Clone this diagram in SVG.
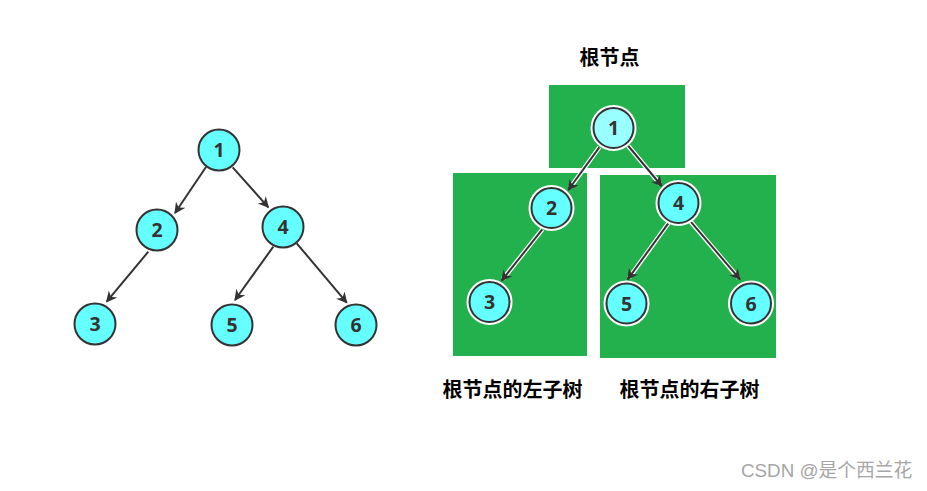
<svg xmlns="http://www.w3.org/2000/svg" width="927" height="491" viewBox="0 0 927 491">
<defs>
<style>
.n{fill:#66FFFF;stroke:#333333;stroke-width:2}
.nr{fill:#99FFFF}
.halo{fill:none;stroke:#FFFFFF;stroke-width:4}
.num{font-family:"Open Sans","Noto Sans",sans-serif;font-weight:bold;font-size:19.5px;fill:#333333;text-anchor:middle}
.e{stroke:#333333;stroke-width:2;fill:none;marker-end:url(#arr)}
.eh{stroke:#FFFFFF;stroke-width:4.5;fill:none}
.lbl{font-family:"Noto Sans CJK SC",sans-serif;font-weight:bold;font-size:20px;fill:#000000}
.box{fill:#23B14D}
</style>
<marker id="arr" viewBox="0 0 10 10" refX="9" refY="5" markerWidth="6.5" markerHeight="5.5" orient="auto" markerUnits="strokeWidth">
<path d="M0,0 L10,5 L0,10 L3,5 Z" fill="#333333"/>
</marker>
</defs>
<rect width="927" height="491" fill="#FFFFFF"/>

<g id="boxes">
<rect id="box-root" class="box" x="549" y="85" width="136" height="83"/>
<rect id="box-left" class="box" x="453" y="173" width="134" height="183"/>
<rect id="box-right" class="box" x="600" y="175" width="176" height="183"/>
</g>

<g id="connectors">
<line class="e" x1="206" y1="167" x2="175" y2="213"/>
<line class="e" x1="232.7" y1="167.3" x2="268.3" y2="207.3"/>
<line class="e" x1="148.3" y1="251.7" x2="106.7" y2="301.7"/>
<line class="e" x1="273.3" y1="246.7" x2="235" y2="300"/>
<line class="e" x1="296.7" y1="243.3" x2="346.7" y2="302.7"/>

<line class="eh" x1="599.3" y1="147.3" x2="570" y2="188"/>
<line class="eh" x1="628.3" y1="146" x2="660" y2="184"/>
<line class="eh" x1="542.3" y1="229.3" x2="503" y2="279"/>
<line class="eh" x1="668.3" y1="223.3" x2="629" y2="278"/>
<line class="eh" x1="690.7" y1="221.7" x2="738.5" y2="278"/>
<line class="e" x1="599.3" y1="147.3" x2="568.3" y2="190"/>
<line class="e" x1="628.3" y1="146" x2="661.7" y2="186"/>
<line class="e" x1="542.3" y1="229.3" x2="501.7" y2="280.7"/>
<line class="e" x1="668.3" y1="223.3" x2="627.7" y2="279.3"/>
<line class="e" x1="690.7" y1="221.7" x2="740" y2="279.3"/>
</g>

<g id="L1"><circle class="n" cx="219" cy="150" r="20.5"/><text class="num" x="219" y="157">1</text></g>
<g id="L2"><circle class="n" cx="157" cy="230" r="20.5"/><text class="num" x="157" y="237">2</text></g>
<g id="L4"><circle class="n" cx="283" cy="227" r="20.5"/><text class="num" x="283" y="234">4</text></g>
<g id="L3"><circle class="n" cx="95" cy="324" r="20.5"/><text class="num" x="95" y="331">3</text></g>
<g id="L5"><circle class="n" cx="232" cy="325" r="20.5"/><text class="num" x="232" y="332">5</text></g>
<g id="L6"><circle class="n" cx="356" cy="325" r="20.5"/><text class="num" x="356" y="332">6</text></g>

<g id="R1"><circle class="halo" cx="613.5" cy="128" r="21"/><circle class="n nr" cx="613.5" cy="128" r="20"/><text class="num" x="613.5" y="135">1</text></g>
<g id="R2"><circle class="halo" cx="551.5" cy="208" r="21"/><circle class="n" cx="551.5" cy="208" r="20"/><text class="num" x="551.5" y="215">2</text></g>
<g id="R4"><circle class="halo" cx="678.5" cy="203" r="21"/><circle class="n" cx="678.5" cy="203" r="20"/><text class="num" x="678.5" y="210">4</text></g>
<g id="R3"><circle class="halo" cx="489.5" cy="302" r="21"/><circle class="n" cx="489.5" cy="302" r="20"/><text class="num" x="489.5" y="309">3</text></g>
<g id="R5"><circle class="halo" cx="626.5" cy="303.5" r="21"/><circle class="n" cx="626.5" cy="303.5" r="20"/><text class="num" x="626.5" y="310.5">5</text></g>
<g id="R6"><circle class="halo" cx="751" cy="303.5" r="21"/><circle class="n" cx="751" cy="303.5" r="20"/><text class="num" x="751" y="310.5">6</text></g>

<g id="labels">
<text class="lbl" x="609.5" y="65" text-anchor="middle">根节点</text>
<text class="lbl" x="442.5" y="397">根节点的左子树</text>
<text class="lbl" x="619.5" y="397">根节点的右子树</text>
</g>
<text x="741" y="477" font-family="Liberation Sans,Noto Sans CJK SC,sans-serif" font-size="18.8" fill="#A6A6A6">CSDN @是个西兰花</text>
</svg>
